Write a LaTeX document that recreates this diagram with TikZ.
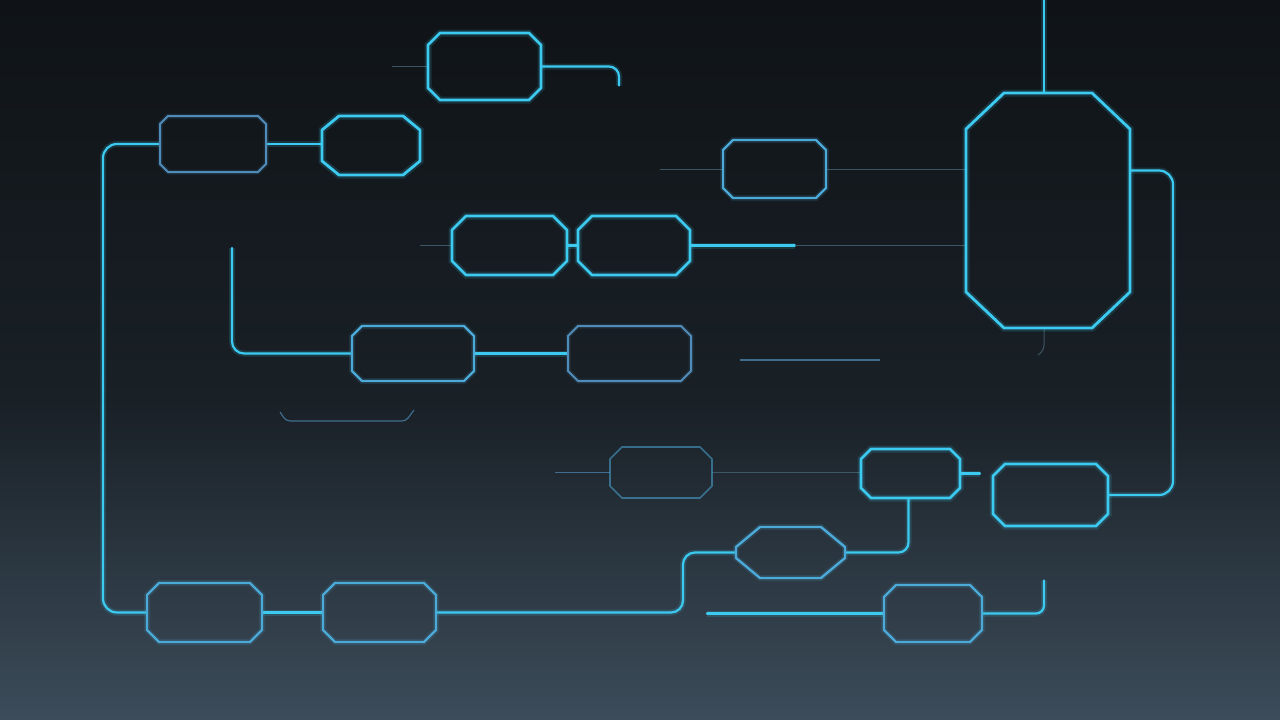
\documentclass[tikz,border=0pt]{standalone}
\usetikzlibrary{fit}
\definecolor{bgtop}{RGB}{15,19,23}
\definecolor{bgmid}{RGB}{25,32,38}
\definecolor{bgbot}{RGB}{60,76,90}
\definecolor{cyanA}{RGB}{60,202,240}
\definecolor{cyanB}{RGB}{75,170,215}
\definecolor{cyanC}{RGB}{80,140,185}
\definecolor{faintc}{RGB}{70,100,115}
\tikzset{
  wire/.style={draw=cyanA, line width=2.2pt, line cap=round,
    preaction={draw=cyanA, line width=6pt, opacity=0.16}},
  brightbox/.style={draw=cyanA, line width=2.8pt, line join=round,
    preaction={draw=cyanA, line width=7pt, opacity=0.16}},
  medbox/.style={draw=cyanB, line width=2.4pt, line join=round,
    preaction={draw=cyanB, line width=6pt, opacity=0.14}},
  dimbox/.style={draw=cyanC, line width=2pt, line join=round,
    preaction={draw=cyanC, line width=5pt, opacity=0.14}},
  fadebox/.style={draw=cyanB, line width=1.6pt, line join=round, opacity=0.55},
  faint/.style={draw=faintc, line width=1pt, opacity=0.8},
  faintblue/.style={draw=cyanC, line width=1.2pt, opacity=0.7},
}
\newcommand\mkbox[5]{%
  \path (#2,#3) coordinate (#1-a) (#4,#5) coordinate (#1-b);
  \node[fit=(#1-a)(#1-b), inner sep=0pt, outer sep=0pt] (#1) {};}
\newcommand\octo[4]{%
  \draw[#4] ([xshift=#2]#1.north west) -- ([xshift=-#2]#1.north east)
    -- ([yshift=-#3]#1.north east) -- ([yshift=#3]#1.south east)
    -- ([xshift=-#2]#1.south east) -- ([xshift=#2]#1.south west)
    -- ([yshift=#3]#1.south west) -- ([yshift=-#3]#1.north west) -- cycle;}
\begin{document}
\begin{tikzpicture}[x=1pt,y=-1pt]
\useasboundingbox (0,0) rectangle (1280,720);
\shade[top color=bgtop, bottom color=bgmid] (0,0) rectangle (1280,400);
\shade[top color=bgmid, bottom color=bgbot] (0,400) rectangle (1280,720);

% boxes (geometry)
\mkbox{A}{428}{33}{541}{100}
\mkbox{B}{160}{116}{266}{172}
\mkbox{C}{322}{116}{420}{175}
\mkbox{D}{723}{140}{826}{198}
\mkbox{E}{966}{93}{1130}{328}
\mkbox{F1}{452}{216}{567}{275}
\mkbox{F2}{578}{216}{690}{275}
\mkbox{H1}{352}{326}{474}{381}
\mkbox{H2}{568}{326}{691}{381}
\mkbox{I}{610}{447}{712}{498}
\mkbox{J}{861}{449}{960}{498}
\mkbox{G}{993}{464}{1108}{526}
\mkbox{K}{736}{527}{845}{578}
\mkbox{L1}{147}{583}{262}{642}
\mkbox{L2}{323}{583}{436}{642}
\mkbox{M}{884}{585}{982}{642}

\coordinate (top) at (1044,0);
\coordinate (h0) at (232,248);
\coordinate (hl) at (740,360);
\coordinate (b1) at (280,412);
\coordinate (b2) at (414,410);

% connectors
\draw[faint] (A.west) -- ++(-36,0);
\draw[wire, rounded corners=10pt] (A.east) -| ++(78,19);
\draw[wire] (B.east) -- (B.east -| C.west);
\draw[wire, rounded corners=14pt] (B.west) -| ([xshift=-44pt]L1.west) -- (L1.west);
\draw[faint] (D.west) -- ++(-63,0);
\draw[faint] (D.east) -- (D.east -| E.west);
\draw[wire] (top) -- (top |- E.north);
\draw[wire, rounded corners=14pt] ([yshift=40pt]E.east) -| ([xshift=65pt]G.east) -- (G.east);
\draw[faint, rounded corners=5pt] ([xshift=-4pt]E.south) -- ++(0,22) -- ++(-6,5);
\draw[faint] (F1.west) -- ++(-32,0);
\draw[wire] (F1.east) -- (F2.west);
\draw[wire] (F2.east) -- ++(105,0) coordinate (f3);
\draw[faint] (f3) -- (f3 -| E.west);
\draw[wire, rounded corners=12pt] (h0) |- (H1.west);
\draw[wire] (H1.east) -- (H2.west);
\draw[faintblue] (hl) -- ++(140,0);
\draw[faintblue, rounded corners=4pt] (b1) -- (286,421) -- (406,421) -- (b2);
\draw[faintblue] (I.west) -- ++(-55,0);
\draw[faint] (I.east) -- (I.east -| J.west);
\draw[wire] (J.east) -- ++(20,0);
\draw[wire, rounded corners=10pt] ([xshift=-2pt]J.south) |- (K.east);
\draw[wire, rounded corners=12pt] (K.west) -- ++(-53,0) |- (L2.east);
\draw[wire] (L1.east) -- (L2.west);
\draw[wire] (M.west) -- ++(-177,0);
\draw[wire, rounded corners=8pt] (M.east) -| ++(62,-33);

% box outlines
\octo{A}{12pt}{12pt}{brightbox}
\octo{B}{8pt}{8pt}{dimbox}
\octo{C}{17pt}{14pt}{brightbox}
\octo{D}{10pt}{10pt}{medbox}
\octo{E}{38pt}{36pt}{brightbox}
\octo{F1}{14pt}{14pt}{brightbox}
\octo{F2}{14pt}{14pt}{brightbox}
\octo{H1}{10pt}{10pt}{medbox}
\octo{H2}{10pt}{10pt}{dimbox}
\octo{I}{12pt}{12pt}{fadebox}
\octo{J}{10pt}{10pt}{brightbox}
\octo{G}{12pt}{12pt}{brightbox}
\octo{K}{24pt}{20pt}{medbox}
\octo{L1}{12pt}{12pt}{medbox}
\octo{L2}{12pt}{12pt}{medbox}
\octo{M}{12pt}{12pt}{medbox}
\end{tikzpicture}
\end{document}
